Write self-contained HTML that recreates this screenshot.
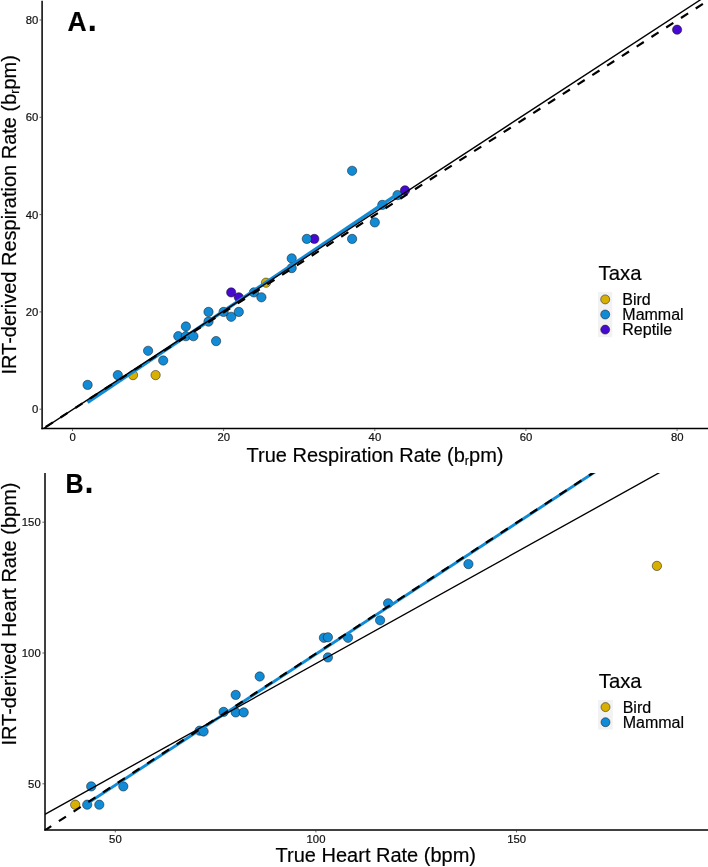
<!DOCTYPE html>
<html lang="en"><head><meta charset="utf-8"><title>IRT-derived vs true rates</title>
<style>html,body{margin:0;padding:0;background:#fff}svg{display:block}text{font-family:"Liberation Sans", Arial, sans-serif;fill:#111;stroke:#111;stroke-width:0.2px}.tk{font-size:11.3px}.ttl{font-size:20px;fill:#000}.lt{font-size:20.3px;fill:#000}.ll{font-size:16px;fill:#000}.pl{font-weight:bold;font-size:28.5px;letter-spacing:1px;fill:#000}</style></head><body>
<svg width="708" height="867" viewBox="0 0 708 867">
<rect width="708" height="867" fill="#fff"/>
<defs><clipPath id="ca"><rect x="42.1" y="0" width="666" height="428.6"/></clipPath><clipPath id="cb"><rect x="45" y="473" width="663" height="356.9"/></clipPath></defs>
<g clip-path="url(#ca)">
<circle cx="87.6" cy="384.9" r="4.65" fill="#128BD6" stroke="#111" stroke-width="0.50"/>
<circle cx="117.8" cy="375.1" r="4.65" fill="#128BD6" stroke="#111" stroke-width="0.50"/>
<circle cx="133.0" cy="375.1" r="4.65" fill="#D8B003" stroke="#111" stroke-width="0.50"/>
<circle cx="155.6" cy="375.1" r="4.65" fill="#D8B003" stroke="#111" stroke-width="0.50"/>
<circle cx="148.1" cy="350.8" r="4.65" fill="#128BD6" stroke="#111" stroke-width="0.50"/>
<circle cx="163.2" cy="360.5" r="4.65" fill="#128BD6" stroke="#111" stroke-width="0.50"/>
<circle cx="178.3" cy="336.2" r="4.65" fill="#128BD6" stroke="#111" stroke-width="0.50"/>
<circle cx="185.9" cy="336.2" r="4.65" fill="#128BD6" stroke="#111" stroke-width="0.50"/>
<circle cx="185.9" cy="326.5" r="4.65" fill="#128BD6" stroke="#111" stroke-width="0.50"/>
<circle cx="193.4" cy="336.2" r="4.65" fill="#128BD6" stroke="#111" stroke-width="0.50"/>
<circle cx="208.5" cy="321.6" r="4.65" fill="#128BD6" stroke="#111" stroke-width="0.50"/>
<circle cx="208.5" cy="311.9" r="4.65" fill="#128BD6" stroke="#111" stroke-width="0.50"/>
<circle cx="216.1" cy="341.1" r="4.65" fill="#128BD6" stroke="#111" stroke-width="0.50"/>
<circle cx="223.6" cy="311.9" r="4.65" fill="#128BD6" stroke="#111" stroke-width="0.50"/>
<circle cx="231.2" cy="316.8" r="4.65" fill="#128BD6" stroke="#111" stroke-width="0.50"/>
<circle cx="238.8" cy="311.9" r="4.65" fill="#128BD6" stroke="#111" stroke-width="0.50"/>
<circle cx="231.2" cy="292.4" r="4.65" fill="#4709CF" stroke="#111" stroke-width="0.50"/>
<circle cx="238.8" cy="297.3" r="4.65" fill="#4709CF" stroke="#111" stroke-width="0.50"/>
<circle cx="253.9" cy="292.4" r="4.65" fill="#128BD6" stroke="#111" stroke-width="0.50"/>
<circle cx="261.4" cy="297.3" r="4.65" fill="#128BD6" stroke="#111" stroke-width="0.50"/>
<circle cx="266.0" cy="282.7" r="4.65" fill="#D8B003" stroke="#111" stroke-width="0.50"/>
<circle cx="291.7" cy="258.4" r="4.65" fill="#128BD6" stroke="#111" stroke-width="0.50"/>
<circle cx="291.7" cy="268.1" r="4.65" fill="#128BD6" stroke="#111" stroke-width="0.50"/>
<circle cx="314.3" cy="238.9" r="4.65" fill="#4709CF" stroke="#111" stroke-width="0.50"/>
<circle cx="306.8" cy="238.9" r="4.65" fill="#128BD6" stroke="#111" stroke-width="0.50"/>
<circle cx="352.1" cy="170.8" r="4.65" fill="#128BD6" stroke="#111" stroke-width="0.50"/>
<circle cx="352.1" cy="238.9" r="4.65" fill="#128BD6" stroke="#111" stroke-width="0.50"/>
<circle cx="374.8" cy="222.4" r="4.65" fill="#128BD6" stroke="#111" stroke-width="0.50"/>
<circle cx="382.3" cy="204.9" r="4.65" fill="#128BD6" stroke="#111" stroke-width="0.50"/>
<circle cx="397.5" cy="195.1" r="4.65" fill="#128BD6" stroke="#111" stroke-width="0.50"/>
<circle cx="405.0" cy="190.3" r="4.65" fill="#4709CF" stroke="#111" stroke-width="0.50"/>
<circle cx="677.1" cy="29.7" r="4.65" fill="#4709CF" stroke="#111" stroke-width="0.50"/>
<line x1="87.6" y1="402.4" x2="397.5" y2="194.1" stroke="#128BD6" stroke-width="3.4"/>
<line x1="42.3" y1="429.2" x2="708.8" y2="0.1" stroke="#000" stroke-width="2.2" stroke-dasharray="8.5 9.07" stroke-dashoffset="13.5"/>
<line x1="42.3" y1="429.4" x2="707.3" y2="-4.7" stroke="#000" stroke-width="1.35"/>
</g>
<line x1="42.1" y1="0.8" x2="42.1" y2="429.3" stroke="#000" stroke-width="1.5"/>
<line x1="41.4" y1="428.55" x2="708" y2="428.55" stroke="#000" stroke-width="1.5"/>
<line x1="39.5" y1="409.2" x2="41.4" y2="409.2" stroke="#222" stroke-width="0.7"/>
<text class="tk" x="38.4" y="413.1" text-anchor="end">0</text>
<line x1="72.5" y1="429.3" x2="72.5" y2="431" stroke="#222" stroke-width="0.7"/>
<text class="tk" x="72.6" y="441.2" text-anchor="middle">0</text>
<line x1="39.5" y1="311.9" x2="41.4" y2="311.9" stroke="#222" stroke-width="0.7"/>
<text class="tk" x="38.4" y="315.8" text-anchor="end">20</text>
<line x1="223.6" y1="429.3" x2="223.6" y2="431" stroke="#222" stroke-width="0.7"/>
<text class="tk" x="223.7" y="441.2" text-anchor="middle">20</text>
<line x1="39.5" y1="214.6" x2="41.4" y2="214.6" stroke="#222" stroke-width="0.7"/>
<text class="tk" x="38.4" y="218.5" text-anchor="end">40</text>
<line x1="374.8" y1="429.3" x2="374.8" y2="431" stroke="#222" stroke-width="0.7"/>
<text class="tk" x="374.9" y="441.2" text-anchor="middle">40</text>
<line x1="39.5" y1="117.3" x2="41.4" y2="117.3" stroke="#222" stroke-width="0.7"/>
<text class="tk" x="38.4" y="121.2" text-anchor="end">60</text>
<line x1="525.9" y1="429.3" x2="525.9" y2="431" stroke="#222" stroke-width="0.7"/>
<text class="tk" x="526.0" y="441.2" text-anchor="middle">60</text>
<line x1="39.5" y1="20.0" x2="41.4" y2="20.0" stroke="#222" stroke-width="0.7"/>
<text class="tk" x="38.4" y="23.9" text-anchor="end">80</text>
<line x1="677.1" y1="429.3" x2="677.1" y2="431" stroke="#222" stroke-width="0.7"/>
<text class="tk" x="677.2" y="441.2" text-anchor="middle">80</text>
<text class="pl" transform="translate(67.6,31) scale(0.93,1)">A<tspan font-size="35">.</tspan></text>
<text class="ttl" transform="translate(15.6,374.6) rotate(-90)">IRT-derived Respiration Rate (b<tspan font-size="12.5" dy="3">r</tspan><tspan dy="-3">pm)</tspan></text>
<text class="ttl" x="246.6" y="461.8">True Respiration Rate (b<tspan font-size="12.5" dy="3">r</tspan><tspan dy="-3">pm)</tspan></text>
<rect x="598" y="292" width="14.3" height="45.2" fill="#F2F2F2"/>
<text class="lt" x="598.6" y="279.9">Taxa</text>
<circle cx="605.2" cy="299.4" r="4.5" fill="#D8B003" stroke="#111" stroke-width="0.5"/>
<text class="ll" x="622.3" y="304.8">Bird</text>
<circle cx="605.2" cy="314.5" r="4.5" fill="#128BD6" stroke="#111" stroke-width="0.5"/>
<text class="ll" x="622.3" y="320.0">Mammal</text>
<circle cx="605.2" cy="329.6" r="4.5" fill="#4709CF" stroke="#111" stroke-width="0.5"/>
<text class="ll" x="622.3" y="335.2">Reptile</text>
<g clip-path="url(#cb)">
<circle cx="75.2" cy="804.7" r="4.65" fill="#D8B003" stroke="#111" stroke-width="0.50"/>
<circle cx="87.2" cy="804.7" r="4.65" fill="#128BD6" stroke="#111" stroke-width="0.50"/>
<circle cx="99.3" cy="804.7" r="4.65" fill="#128BD6" stroke="#111" stroke-width="0.50"/>
<circle cx="91.2" cy="786.4" r="4.65" fill="#128BD6" stroke="#111" stroke-width="0.50"/>
<circle cx="123.3" cy="786.4" r="4.65" fill="#128BD6" stroke="#111" stroke-width="0.50"/>
<circle cx="199.6" cy="730.7" r="4.65" fill="#128BD6" stroke="#111" stroke-width="0.50"/>
<circle cx="203.6" cy="731.5" r="4.65" fill="#128BD6" stroke="#111" stroke-width="0.50"/>
<circle cx="223.6" cy="711.9" r="4.65" fill="#128BD6" stroke="#111" stroke-width="0.50"/>
<circle cx="235.7" cy="712.4" r="4.65" fill="#128BD6" stroke="#111" stroke-width="0.50"/>
<circle cx="243.7" cy="712.4" r="4.65" fill="#128BD6" stroke="#111" stroke-width="0.50"/>
<circle cx="235.7" cy="694.9" r="4.65" fill="#128BD6" stroke="#111" stroke-width="0.50"/>
<circle cx="259.7" cy="676.5" r="4.65" fill="#128BD6" stroke="#111" stroke-width="0.50"/>
<circle cx="323.9" cy="637.8" r="4.65" fill="#128BD6" stroke="#111" stroke-width="0.50"/>
<circle cx="327.9" cy="637.3" r="4.65" fill="#128BD6" stroke="#111" stroke-width="0.50"/>
<circle cx="327.9" cy="657.4" r="4.65" fill="#128BD6" stroke="#111" stroke-width="0.50"/>
<circle cx="348.0" cy="637.8" r="4.65" fill="#128BD6" stroke="#111" stroke-width="0.50"/>
<circle cx="380.1" cy="620.3" r="4.65" fill="#128BD6" stroke="#111" stroke-width="0.50"/>
<circle cx="388.1" cy="603.3" r="4.65" fill="#128BD6" stroke="#111" stroke-width="0.50"/>
<circle cx="468.4" cy="564.1" r="4.65" fill="#128BD6" stroke="#111" stroke-width="0.50"/>
<circle cx="656.9" cy="565.9" r="4.65" fill="#D8B003" stroke="#111" stroke-width="0.50"/>
<line x1="88.0" y1="803.0" x2="596.7" y2="470.8" stroke="#128BD6" stroke-width="2.9"/>
<line x1="44.9" y1="830.3" x2="596.7" y2="470.5" stroke="#000" stroke-width="2.2" stroke-dasharray="8.5 9.08" stroke-dashoffset="0.9"/>
<line x1="44.9" y1="814.3" x2="664.9" y2="469.6" stroke="#000" stroke-width="1.35"/>
</g>
<line x1="45" y1="473" x2="45" y2="830.6" stroke="#000" stroke-width="1.5"/>
<line x1="44.3" y1="829.9" x2="708" y2="829.9" stroke="#000" stroke-width="1.5"/>
<line x1="42.4" y1="783.8" x2="44.3" y2="783.8" stroke="#222" stroke-width="0.7"/>
<text class="tk" x="40.7" y="787.7" text-anchor="end">50</text>
<line x1="115.3" y1="830.6" x2="115.3" y2="832.4" stroke="#222" stroke-width="0.7"/>
<text class="tk" x="115.4" y="842.6" text-anchor="middle">50</text>
<line x1="42.4" y1="653.0" x2="44.3" y2="653.0" stroke="#222" stroke-width="0.7"/>
<text class="tk" x="40.7" y="656.9" text-anchor="end">100</text>
<line x1="315.9" y1="830.6" x2="315.9" y2="832.4" stroke="#222" stroke-width="0.7"/>
<text class="tk" x="316.0" y="842.6" text-anchor="middle">100</text>
<line x1="42.4" y1="522.2" x2="44.3" y2="522.2" stroke="#222" stroke-width="0.7"/>
<text class="tk" x="40.7" y="526.1" text-anchor="end">150</text>
<line x1="516.5" y1="830.6" x2="516.5" y2="832.4" stroke="#222" stroke-width="0.7"/>
<text class="tk" x="516.6" y="842.6" text-anchor="middle">150</text>
<text class="pl" transform="translate(65.4,493.4) scale(0.88,1)">B<tspan font-size="35" dx="0.5">.</tspan></text>
<text class="ttl" transform="translate(15.6,745.6) rotate(-90)">IRT-derived Heart Rate (bpm)</text>
<text class="ttl" x="275.6" y="862">True Heart Rate (bpm)</text>
<rect x="598" y="700" width="14.8" height="29.6" fill="#F2F2F2"/>
<text class="lt" x="598.8" y="687.7">Taxa</text>
<circle cx="605.5" cy="707.1" r="4.5" fill="#D8B003" stroke="#111" stroke-width="0.5"/>
<text class="ll" x="622.7" y="712.5">Bird</text>
<circle cx="605.5" cy="722.2" r="4.5" fill="#128BD6" stroke="#111" stroke-width="0.5"/>
<text class="ll" x="622.7" y="727.6">Mammal</text>
</svg></body></html>
